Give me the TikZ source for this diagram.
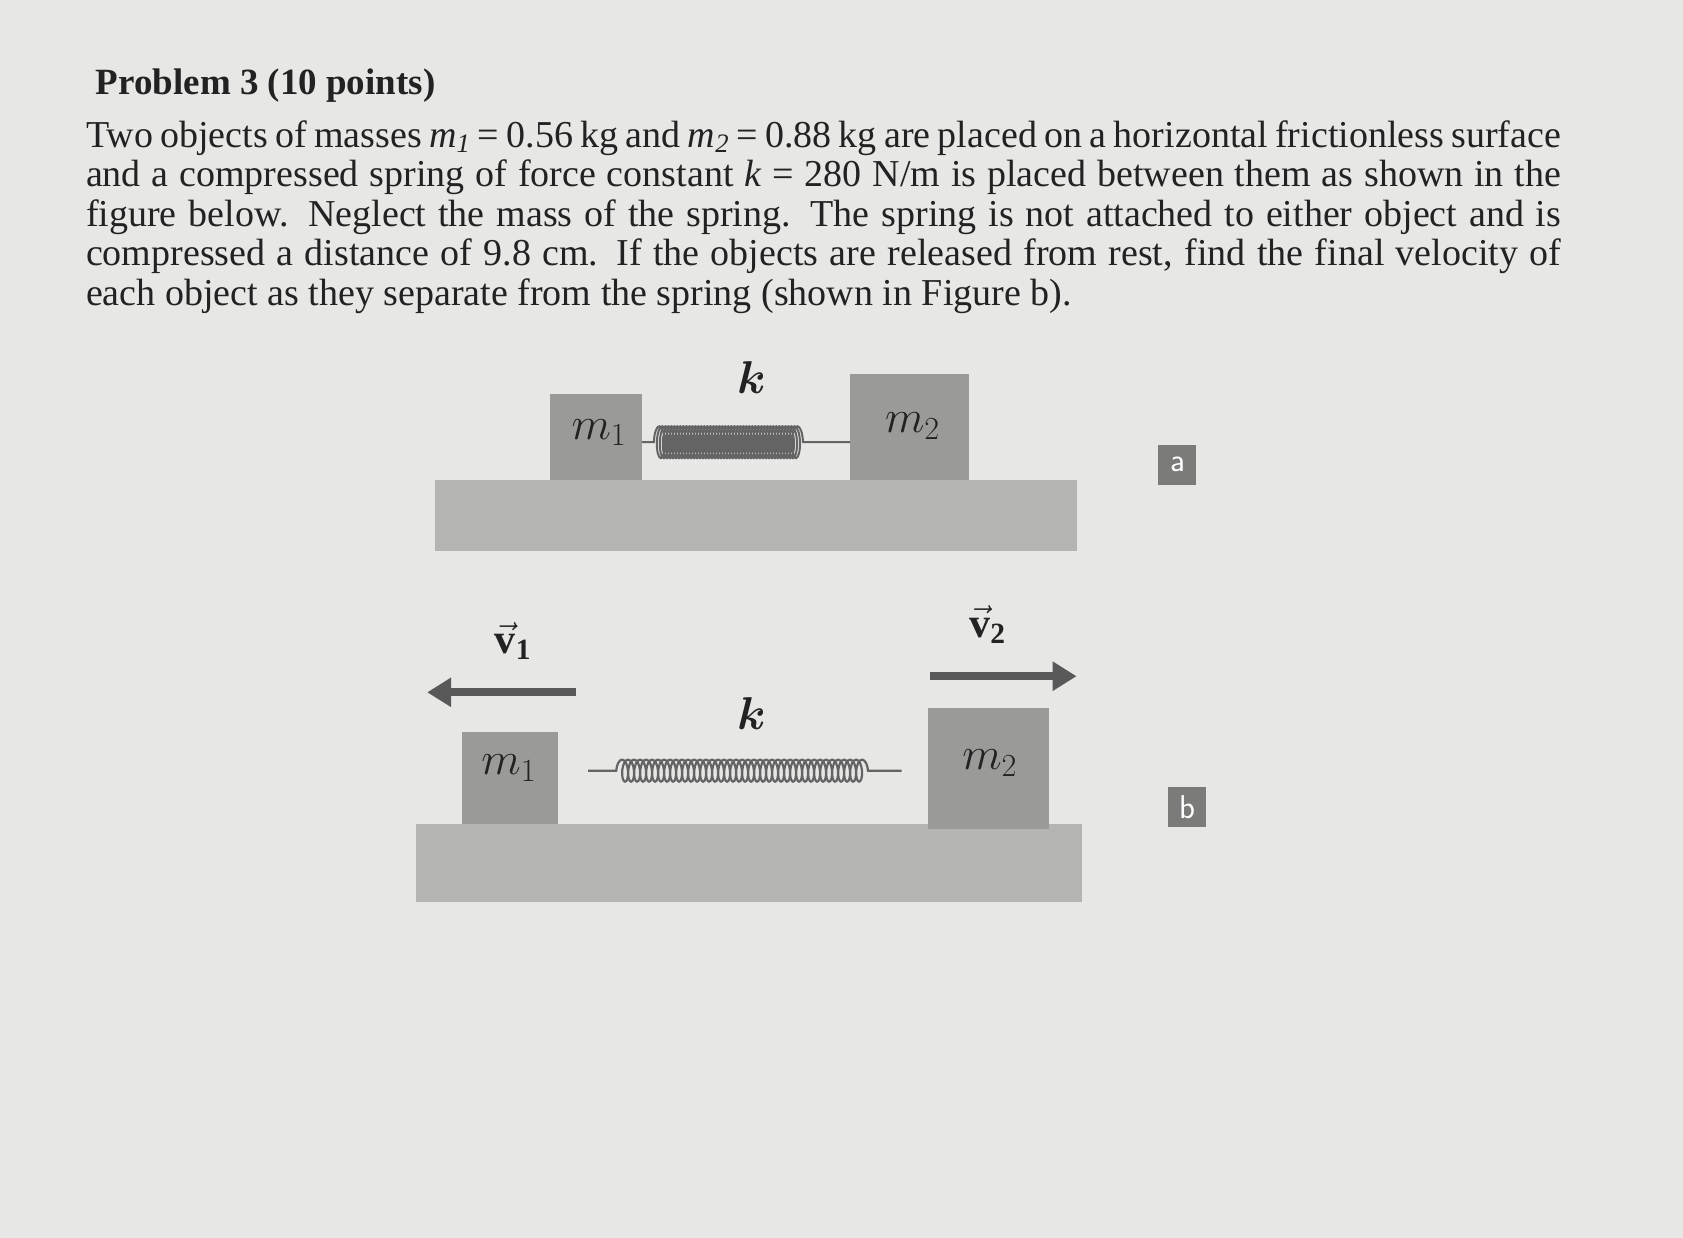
\documentclass[tikz,border=0pt]{standalone}
\usepackage{fix-cm}
\usepackage{amsmath}
\usepackage{fontspec}
\setmainfont{Liberation Serif}
\usetikzlibrary{decorations.pathmorphing,arrows.meta}
\definecolor{page}{HTML}{E7E7E5}
\definecolor{block}{HTML}{9A9A98}
\definecolor{ground}{HTML}{B4B4B2}
\definecolor{ink}{HTML}{222222}
\tikzset{
  gnd/.style={fill=ground,draw=none},
  spr/.style={draw=ink!70,line width=2.2pt,decorate,decoration={coil,aspect=0.4,segment length=6pt,amplitude=11pt,pre length=28pt,post length=28pt}},
  lbl/.style={font=\fontsize{46}{50}\selectfont,text=ink},
  tag/.style={fill=block!80!black,text=white,font=\fontsize{33}{36}\selectfont\sffamily,minimum width=38pt,minimum height=40pt,inner sep=0pt},
  varr/.style={line width=8pt,draw=ink!75,-{Triangle[length=24pt,width=28pt]}}
}
\begin{document}
\begin{tikzpicture}[x=1.0733pt,y=-1.0733pt]
\useasboundingbox[fill=page] (0,0) rectangle (1568,1153);
\node[anchor=west,font=\fontsize{37}{42}\selectfont\bfseries,text=ink] (title) at (86,80) {Problem 3 (10 points)};
\node[anchor=north west,text width=1475pt,align=justify,font=\fontsize{38}{39.5}\selectfont,text=ink,inner sep=0pt] (para) at (80,112)
{Two objects of masses \textit{m}\textsubscript{\textit{1}} = 0.56 kg and \textit{m}\textsubscript{\textit{2}} = 0.88 kg are placed on a horizontal frictionless surface\linebreak
and a compressed spring of force constant \textit{k} = 280 N/m is placed between them as shown in the\linebreak
figure below. Neglect the mass of the spring. The spring is not attached to either object and is\linebreak
compressed a distance of 9.8 cm. If the objects are released from rest, find the final velocity of\linebreak
each object as they separate from the spring (shown in Figure b).};
% figure a
\fill[gnd] (405,447) rectangle (1003,513);
\fill[block] (512,367) rectangle (598,447);
\fill[block] (792,348) rectangle (903,447);
\coordinate (a1) at (598,412);
\coordinate (a2) at (792,412);
\draw[draw=ink!70,line width=2pt,decorate,decoration={coil,aspect=0.3,segment length=3pt,amplitude=16pt,pre length=12pt,post length=45pt}] (a1) -- (a2);
\node[lbl] (ma1) at (558,403) {$m_1$};
\node[lbl] (ma2) at (850,397) {$m_2$};
\node[lbl] (ka) at (700,352) {$\boldsymbol{k}$};
\node[tag] (ta) at (1097,433) {a};
% figure b
\fill[gnd] (388,768) rectangle (1008,840);
\fill[block] (430,682) rectangle (520,768);
\fill[block] (865,660) rectangle (977,772);
\coordinate (b1) at (548,718);
\coordinate (b2) at (840,718);
\draw[spr] (b1) -- (b2);
\node[lbl] (mb1) at (474,716) {$m_1$};
\node[lbl] (mb2) at (922,711) {$m_2$};
\node[lbl] (kb) at (700,665) {$\boldsymbol{k}$};
\node[tag] (tb) at (1106,752) {b};
\coordinate (v1s) at (537,645);
\coordinate (v1e) at (398,645);
\draw[varr] (v1s) -- (v1e);
\coordinate (v2s) at (866,630);
\coordinate (v2e) at (1003,630);
\draw[varr] (v2s) -- (v2e);
\node[font=\fontsize{42}{44}\selectfont\bfseries,text=ink] (lv1) at (478,597) {$\vec{\mathbf{v}}_{\mathbf{1}}$};
\node[font=\fontsize{42}{44}\selectfont\bfseries,text=ink] (lv2) at (920,582) {$\vec{\mathbf{v}}_{\mathbf{2}}$};
\end{tikzpicture}
\end{document}
